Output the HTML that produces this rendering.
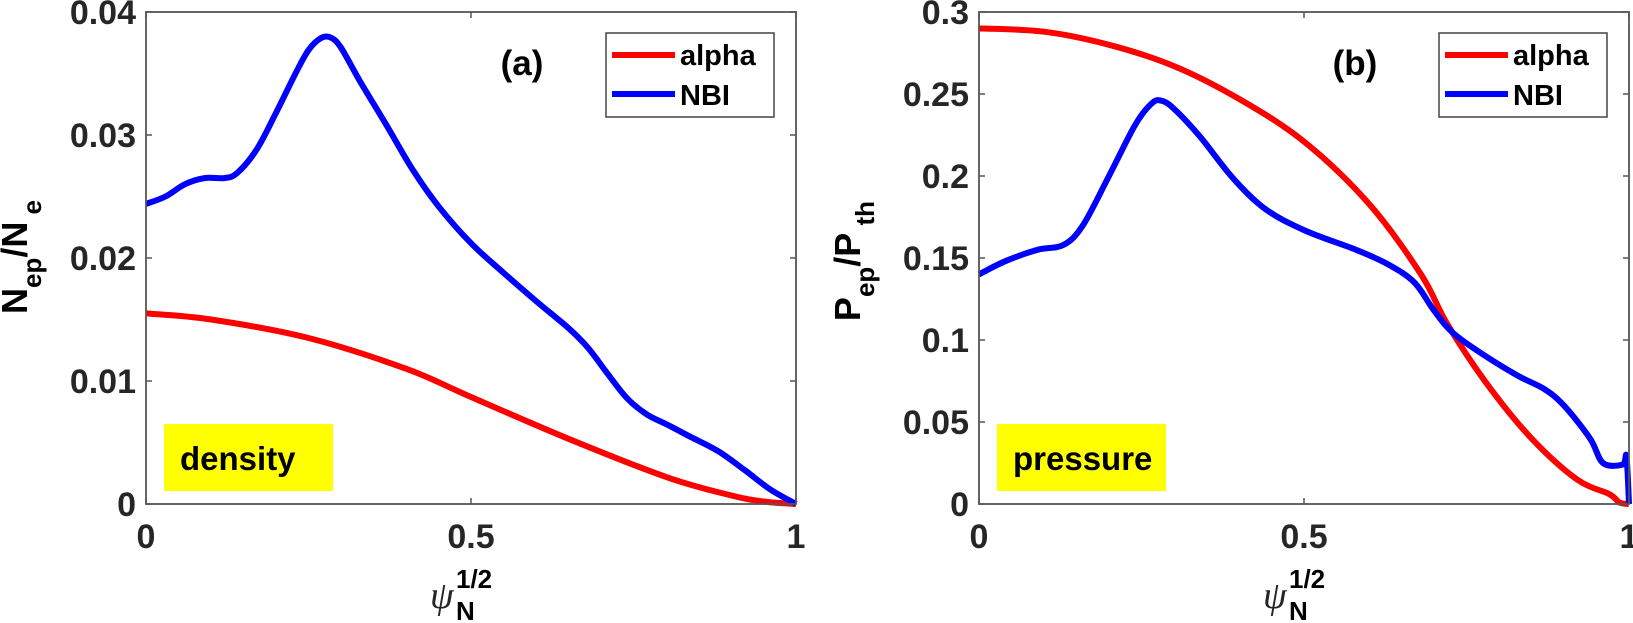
<!DOCTYPE html>
<html><head><meta charset="utf-8"><style>
html,body{margin:0;padding:0;background:#fff;}
svg{display:block;}
.t{font-family:"Liberation Sans",sans-serif;font-weight:bold;fill:#262626;font-size:34px;}
.b{font-family:"Liberation Sans",sans-serif;font-weight:bold;fill:#000;}
</style></head><body>
<svg id="s" width="1633" height="623" xmlns="http://www.w3.org/2000/svg">
<g id="g"></g>
<text class="b" font-size="36" transform="translate(27,257) rotate(-90)" text-anchor="middle" fill="#262626">N<tspan font-size="26" dy="14">ep</tspan><tspan dy="-14">/N</tspan><tspan font-size="26" dy="14"> e</tspan></text>
<text class="b" font-size="36" transform="translate(860,261) rotate(-90)" text-anchor="middle" fill="#262626">P<tspan font-size="26" dy="14">ep</tspan><tspan dy="-14">/P</tspan><tspan font-size="26" dy="14"> th</tspan></text>
<g>
<text x="430" y="608" font-family="Liberation Serif,serif" font-style="italic" font-size="38" fill="#262626">ψ</text>
<text class="b" x="456" y="588" font-size="26" fill="#262626">1/2</text>
<text class="b" x="456" y="620" font-size="26" fill="#262626">N</text>
</g>
<g transform="translate(833,0)">
<text x="430" y="608" font-family="Liberation Serif,serif" font-style="italic" font-size="38" fill="#262626">ψ</text>
<text class="b" x="456" y="588" font-size="26" fill="#262626">1/2</text>
<text class="b" x="456" y="620" font-size="26" fill="#262626">N</text>
</g>
</svg>
<script>
const g=document.getElementById('g');let h='';
function cr(pts){let d='M'+pts[0][0]+','+pts[0][1];for(let i=0;i<pts.length-1;i++){const p0=pts[i-1]||pts[i],p1=pts[i],p2=pts[i+1],p3=pts[i+2]||p2;const c1=[p1[0]+(p2[0]-p0[0])/6,p1[1]+(p2[1]-p0[1])/6],c2=[p2[0]-(p3[0]-p1[0])/6,p2[1]-(p3[1]-p1[1])/6];d+=` C${c1[0].toFixed(1)},${c1[1].toFixed(1)} ${c2[0].toFixed(1)},${c2[1].toFixed(1)} ${p2[0].toFixed(1)},${p2[1].toFixed(1)}`;}return d;}
function panel(x0,ymax,yt,ytl,series,lab,box){
 const W=650,T=12,B=504;const X=v=>x0+v*W,Y=v=>B-v/ymax*(B-T);
 yt.forEach((v,i)=>{const y=Y(v);h+=`<line x1="${x0}" y1="${y}" x2="${x0+6}" y2="${y}" stroke="#555" stroke-width="1.5"/><line x1="${x0+W}" y1="${y}" x2="${x0+W-6}" y2="${y}" stroke="#555" stroke-width="1.5"/><text class="t" x="${x0-10}" y="${y+12}" text-anchor="end">${ytl[i]}</text>`;});
 [[0,'0'],[0.5,'0.5'],[1,'1']].forEach(([v,l])=>{const x=X(v);h+=`<line x1="${x}" y1="${B}" x2="${x}" y2="${B-6}" stroke="#555" stroke-width="1.5"/><line x1="${x}" y1="${T}" x2="${x}" y2="${T+6}" stroke="#555" stroke-width="1.5"/><text class="t" x="${x}" y="${B+44}" text-anchor="middle">${l}</text>`;});
 h+=`<rect x="${x0+18}" y="424" width="169" height="67" fill="#ffff00"/><text class="b" font-size="33" x="${x0+34}" y="470">${box}</text>`;
 series.forEach(([c,d])=>{h+=`<path d="${cr(d.map(p=>[X(p[0]),Y(p[1])]))}" fill="none" stroke="${c}" stroke-width="6" stroke-linejoin="round"/>`;});
 h+=`<rect x="${x0}" y="${T}" width="${W}" height="${B-T}" fill="none" stroke="#555" stroke-width="1.8"/>`;
 h+=`<text class="b" font-size="35" x="${x0+376}" y="75" text-anchor="middle">${lab}</text>`;
 const lx=x0+460;h+=`<rect x="${lx}" y="33" width="168" height="84" fill="#fff" stroke="#444" stroke-width="1.5"/><line x1="${lx+6}" y1="55" x2="${lx+69}" y2="55" stroke="red" stroke-width="6"/><line x1="${lx+6}" y1="94" x2="${lx+69}" y2="94" stroke="blue" stroke-width="6"/><text class="b" font-size="29" x="${lx+74}" y="65">alpha</text><text class="b" font-size="29" x="${lx+74}" y="105">NBI</text>`;
}
panel(146,0.04,[0,0.01,0.02,0.03,0.04],['0','0.01','0.02','0.03','0.04'],[
 ['red',[[0,0.0155],[0.1,0.015],[0.25,0.0135],[0.4,0.011],[0.5,0.0087],[0.65,0.0053],[0.8,0.0022],[0.9,0.0007],[0.95,0.0002],[1,0]]],
 ['blue',[[0,0.0244],[0.03,0.025],[0.06,0.026],[0.09,0.0265],[0.12,0.0265],[0.14,0.0269],[0.17,0.0288],[0.2,0.0318],[0.23,0.035],[0.25,0.0369],[0.27,0.0379],[0.285,0.0379],[0.3,0.0371],[0.33,0.0343],[0.37,0.0308],[0.41,0.0272],[0.45,0.0242],[0.5,0.0212],[0.55,0.0188],[0.6,0.0165],[0.65,0.0143],[0.68,0.0127],[0.71,0.0106],[0.74,0.0086],[0.77,0.0073],[0.8,0.0065],[0.84,0.0054],[0.88,0.0043],[0.92,0.0028],[0.96,0.0012],[1,0]]]
],'(a)','density');
panel(979,0.3,[0,0.05,0.1,0.15,0.2,0.25,0.3],['0','0.05','0.1','0.15','0.2','0.25','0.3'],[
 ['red',[[0,0.29],[0.1,0.288],[0.2,0.28],[0.3,0.267],[0.4,0.247],[0.5,0.221],[0.6,0.183],[0.68,0.14],[0.72,0.11],[0.78,0.074],[0.85,0.04],[0.92,0.015],[0.97,0.006],[0.985,0.001],[1,0]]],
 ['blue',[[0,0.14],[0.04,0.148],[0.09,0.155],[0.13,0.158],[0.16,0.17],[0.2,0.2],[0.24,0.231],[0.265,0.244],[0.28,0.246],[0.3,0.241],[0.34,0.224],[0.39,0.199],[0.44,0.18],[0.5,0.167],[0.58,0.155],[0.63,0.146],[0.67,0.135],[0.7,0.118],[0.73,0.104],[0.78,0.09],[0.83,0.078],[0.87,0.07],[0.9,0.06],[0.94,0.04],[0.96,0.025],[0.99,0.024],[0.996,0.029],[1,0]]]
],'(b)','pressure');
g.innerHTML=h;
</script>
</body></html>
